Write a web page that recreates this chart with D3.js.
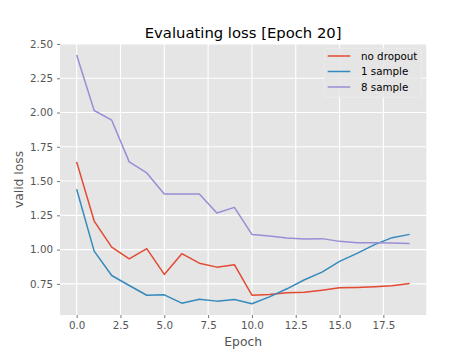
<!DOCTYPE html>
<html><head><meta charset="utf-8">
<script src="https://cdn.jsdelivr.net/npm/d3@7"></script>
<style>body{margin:0;background:#fff;} text{font-family:"DejaVu Sans",sans-serif;}</style>
</head><body>
<svg id="c" width="474" height="355"></svg>
<script>
const epochs = [0,1,2,3,4,5,6,7,8,9,10,11,12,13,14,15,16,17,18,19];
const noDropout = [1.64,1.208,1.018,0.933,1.007,0.819,0.970,0.901,0.872,0.890,0.667,0.672,0.685,0.689,0.704,0.721,0.724,0.729,0.736,0.753];
const oneSample = [1.44,0.989,0.811,0.738,0.667,0.670,0.609,0.638,0.624,0.636,0.605,0.655,0.714,0.780,0.836,0.914,0.972,1.036,1.087,1.111];
const eightSample = [2.42,2.015,1.944,1.64,1.559,1.405,1.405,1.405,1.267,1.308,1.111,1.099,1.084,1.077,1.080,1.060,1.050,1.050,1.048,1.045];
const seriesNames = ["no dropout","1 sample","8 sample"];
const xTicks = [0,2.5,5,7.5,10,12.5,15,17.5];
const yTicks = [0.75,1.00,1.25,1.50,1.75,2.00,2.25,2.50];

const colors = ["#E24A33","#348ABD","#988ED5"];
const series = [noDropout, oneSample, eightSample];
const svg = d3.select("#c");
const L=60, R=426.3, T=44, B=315;
const x = d3.scaleLinear().domain([-0.95,19.95]).range([L,R]);
const y = d3.scaleLinear().domain([0.5228,2.50]).range([B,T]);

svg.append("rect").attr("x",L).attr("y",T).attr("width",R-L).attr("height",B-T).attr("fill","#E5E5E5");
// grid
svg.append("g").selectAll("line").data(xTicks).join("line")
  .attr("x1",d=>x(d)).attr("x2",d=>x(d)).attr("y1",T).attr("y2",B)
  .attr("stroke","#fff").attr("stroke-width",1.1);
svg.append("g").selectAll("line").data(yTicks).join("line")
  .attr("y1",d=>y(d)).attr("y2",d=>y(d)).attr("x1",L).attr("x2",R)
  .attr("stroke","#fff").attr("stroke-width",1.1);

// axes
const xAxis = d3.axisBottom(x).tickValues(xTicks).tickFormat(d3.format(".1f")).tickSize(3).tickPadding(4);
const gx = svg.append("g").attr("transform",`translate(0,${B})`).call(xAxis);
const yAxis = d3.axisLeft(y).tickValues(yTicks).tickFormat(d3.format(".2f")).tickSize(3).tickPadding(4);
const gy = svg.append("g").attr("transform",`translate(${L},0)`).call(yAxis);
[gx,gy].forEach(g=>{
  g.select(".domain").remove();
  g.selectAll(".tick line").attr("stroke","#555").attr("stroke-width",0.8);
  g.selectAll(".tick text").attr("fill","#555").style("font-size","10.3px").style("font-family","DejaVu Sans");
});

// lines
const line = d3.line().x((d,i)=>x(epochs[i])).y(d=>y(d));
series.forEach((s,k)=>{
  svg.append("path").datum(s).attr("d",line).attr("fill","none")
    .attr("stroke",colors[k]).attr("stroke-width",1.5).attr("stroke-linejoin","round");
});

// title & labels
svg.append("text").attr("x",(L+R)/2).attr("y",37.5).attr("text-anchor","middle")
  .style("font-size","14.8px").attr("fill","#000").text("Evaluating loss [Epoch 20]");
svg.append("text").attr("x",(L+R)/2).attr("y",346).attr("text-anchor","middle")
  .style("font-size","12.3px").attr("fill","#555").text("Epoch");
svg.append("text").attr("transform",`translate(23,${(T+B)/2}) rotate(-90)`).attr("text-anchor","middle")
  .style("font-size","12.3px").attr("fill","#555").text("valid loss");

// legend
const lg = svg.append("g");
lg.append("rect").attr("x",324.3).attr("y",48.3).attr("width",97).attr("height",49).attr("rx",2)
  .attr("fill","#E5E5E5").attr("fill-opacity",0.8).attr("stroke","#ececec").attr("stroke-width",0.8);
seriesNames.forEach((n,k)=>{
  const yy = 56 + k*15.5;
  lg.append("line").attr("x1",327.7).attr("x2",350.3).attr("y1",yy).attr("y2",yy)
    .attr("stroke",colors[k]).attr("stroke-width",1.5);
  lg.append("text").attr("x",361).attr("y",yy).attr("dy","0.36em").style("font-size","10.3px")
    .attr("fill","#000").text(n);
});
</script>
</body></html>
